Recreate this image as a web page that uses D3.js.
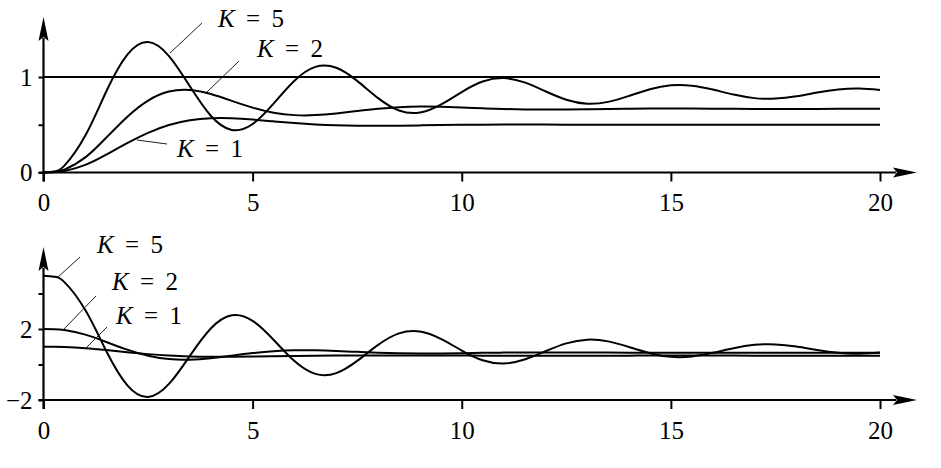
<!DOCTYPE html>
<html><head><meta charset="utf-8">
<script src="https://cdn.jsdelivr.net/npm/d3@7"></script>
<style>body{margin:0;background:#fff} svg{display:block}</style>
</head><body>
<svg id="chart" width="941" height="468"></svg>
<script>
// ---------- data ----------
const time = [0,0.25,0.5,1,1.5,2,2.5,3,3.5,4,4.5,5,5.5,6,6.5,7,7.5,8,8.5,9,9.5,10,10.5,11,11.5,12,12.5,13,13.5,14,14.5,15,15.5,16,16.5,17,17.5,18,18.5,19,19.5,20];

// process output y (top panel)
const yK1 = [0,0.0021,0.0144,0.0797,0.1867,0.307,0.4153,0.4966,0.5464,0.5675,0.5673,0.5542,0.5358,0.5177,0.5034,0.494,0.4895,0.4888,0.4905,0.4934,0.4964,0.4989,0.5007,0.5016,0.5019,0.5017,0.5012,0.5007,0.5003,0.5,0.4998,0.4997,0.4997,0.4998,0.4999,0.5,0.5,0.5,0.5,0.5,0.5,0.5];
const yK2 = [0,0.0043,0.0287,0.1582,0.3647,0.5823,0.7532,0.8473,0.8633,0.8212,0.7505,0.679,0.6263,0.6008,0.6009,0.6188,0.644,0.6676,0.6836,0.6901,0.6883,0.6812,0.6724,0.6647,0.66,0.6585,0.6597,0.6624,0.6654,0.6678,0.6692,0.6695,0.6689,0.6679,0.6669,0.6661,0.6658,0.6657,0.666,0.6663,0.6667,0.6669];
const yK5 = [0,0.0108,0.0716,0.3868,0.8478,1.2314,1.3653,1.2189,0.9025,0.5946,0.4458,0.5077,0.7214,0.9613,1.1059,1.0968,0.9594,0.7785,0.649,0.6276,0.7103,0.8424,0.9522,0.9887,0.9438,0.8507,0.7616,0.7198,0.7395,0.8027,0.8725,0.9135,0.9096,0.8687,0.8159,0.7788,0.7736,0.7984,0.8371,0.8687,0.8786,0.865];
const setpoint = [1, 1];
const setpointTime = [0, 20];

// control signal u (bottom panel)
const uK1 = [1,0.9979,0.9856,0.9203,0.8133,0.693,0.5847,0.5034,0.4536,0.4325,0.4327,0.4458,0.4642,0.4823,0.4966,0.506,0.5105,0.5112,0.5095,0.5066,0.5036,0.5011,0.4993,0.4984,0.4982,0.4984,0.4988,0.4993,0.4997,0.5,0.5002,0.5003,0.5003,0.5002,0.5001,0.5,0.5,0.5,0.5,0.5,0.5,0.5];
const uK2 = [2,1.9914,1.9426,1.6835,1.2706,0.8355,0.4936,0.3055,0.2735,0.3576,0.4991,0.6421,0.7475,0.7985,0.7981,0.7624,0.7119,0.6648,0.6328,0.6198,0.6235,0.6377,0.6553,0.6705,0.68,0.683,0.6806,0.6752,0.6692,0.6643,0.6616,0.6611,0.6622,0.6642,0.6663,0.6678,0.6685,0.6685,0.668,0.6673,0.6667,0.6662];
const uK5 = [5,4.9462,4.6422,3.0663,0.761,-1.157,-1.8266,-1.0944,0.4878,2.0268,2.7709,2.4615,1.393,0.1935,-0.5294,-0.4842,0.2029,1.1075,1.7552,1.8619,1.4484,0.788,0.2392,0.0568,0.281,0.7467,1.1922,1.4011,1.3025,0.9864,0.6378,0.4324,0.4521,0.6566,0.9205,1.1059,1.1322,1.008,0.8146,0.6565,0.6068,0.6752];

const xTicks = [0, 5, 10, 15, 20];
const topYTicks = [0, 0.5, 1];
const topYLabels = ["0", "", "1"];
const botYTicks = [-2, 0, 2, 4];
const botYLabels = ["\u22122", "", "2", ""];
const gains = ["5", "2", "1"];

// ---------- layout ----------
const FONT = "'Liberation Serif', 'Times New Roman', serif";
const FS = 25;
const svg = d3.select("#chart");

const x = d3.scaleLinear().domain([0, 20]).range([43.5, 880]);
const yTop = d3.scaleLinear().domain([0, 1]).range([172.5, 77]);
const yBot = d3.scaleLinear().domain([-2, 2]).range([400, 329]);

function arrowRight(g, xTip, yc) {
  g.append("path").attr("d", `M${xTip},${yc} L${xTip-24},${yc-5} L${xTip-20},${yc} L${xTip-24},${yc+5} Z`).attr("fill", "#000");
}
function arrowUp(g, xc, yTip) {
  g.append("path").attr("d", `M${xc},${yTip} L${xc-5},${yTip+24} L${xc},${yTip+20} L${xc+5},${yTip+24} Z`).attr("fill", "#000");
}

function panel(yScale, baseVal, yTicks, yLabels, arrowTipY, series, setLine, annotations) {
  const g = svg.append("g");
  const y0 = yScale(baseVal);
  // x axis ticks & labels
  const xa = d3.axisBottom(x).tickValues(xTicks).tickSize(9).tickSizeOuter(0).tickPadding(12).tickFormat(d3.format("d"));
  const gx = g.append("g").attr("transform", `translate(0,${y0})`).call(xa);
  gx.select(".domain").remove();
  gx.selectAll(".tick line").attr("stroke", "#000").attr("stroke-width", 2);
  gx.selectAll("text").attr("font-family", FONT).attr("font-size", FS).attr("fill", "#000");
  // y axis ticks & labels
  const ya = d3.axisLeft(yScale).tickValues(yTicks).tickSize(5).tickSizeOuter(0).tickPadding(6)
    .tickFormat((d, i) => yLabels[i]);
  const gy = g.append("g").attr("transform", `translate(${x(0)},0)`).call(ya);
  gy.select(".domain").remove();
  gy.selectAll(".tick line").attr("stroke", "#000").attr("stroke-width", 2);
  gy.selectAll("text").attr("font-family", FONT).attr("font-size", FS).attr("fill", "#000");
  // axis lines
  g.append("line").attr("x1", x(0) - 5).attr("x2", 896).attr("y1", y0).attr("y2", y0).attr("stroke", "#000").attr("stroke-width", 2.2);
  arrowRight(g, 917, y0);
  g.append("line").attr("x1", x(0)).attr("x2", x(0)).attr("y1", y0 + 9).attr("y2", arrowTipY + 21).attr("stroke", "#000").attr("stroke-width", 2.2);
  arrowUp(g, x(0), arrowTipY);
  // setpoint line
  if (setLine) {
    g.append("path").datum(setpointTime.map((t, i) => [t, setpoint[i]]))
      .attr("d", d3.line().x(d => x(d[0])).y(d => yScale(d[1])))
      .attr("fill", "none").attr("stroke", "#000").attr("stroke-width", 2);
  }
  // curves
  const line = d3.line().x(d => x(d[0])).y(d => yScale(d[1])).curve(d3.curveNatural);
  series.forEach(s => {
    g.append("path").datum(time.map((t, i) => [t, s[i]]))
      .attr("d", line).attr("fill", "none").attr("stroke", "#000").attr("stroke-width", 2)
      .attr("stroke-linejoin", "round");
  });
  // annotations
  annotations.forEach(a => {
    g.append("line").attr("x1", a.from[0]).attr("y1", a.from[1]).attr("x2", a.to[0]).attr("y2", a.to[1])
      .attr("stroke", "#222").attr("stroke-width", 1);
    const t = g.append("text").attr("x", a.text[0]).attr("y", a.text[1])
      .attr("font-family", FONT).attr("font-size", FS).attr("fill", "#000")
      .attr("textLength", 66).attr("lengthAdjust", "spacing");
    t.append("tspan").attr("font-style", "italic").text("K");
    t.append("tspan").text(" = " + a.k);
  });
}

panel(yTop, 0, topYTicks, topYLabels, 17, [yK1, yK2, yK5], true, [
  {k: gains[0], from: [170, 53], to: [202, 23], text: [218, 27]},
  {k: gains[1], from: [207, 92], to: [239, 61], text: [257, 57]},
  {k: gains[2], from: [137, 140], to: [167, 144], text: [177, 157]}
]);
panel(yBot, -2, botYTicks, botYLabels, 247, [uK1, uK2, uK5], false, [
  {k: gains[0], from: [58, 277], to: [80, 257], text: [97, 253]},
  {k: gains[1], from: [63, 330], to: [96, 296], text: [112, 290]},
  {k: gains[2], from: [86, 348], to: [107, 327], text: [116, 324]}
]);
</script>
</body></html>
